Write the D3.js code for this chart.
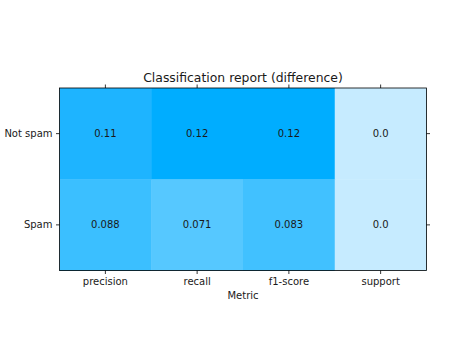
<!DOCTYPE html>
<html><head><meta charset="utf-8">
<script src="https://cdn.jsdelivr.net/npm/d3@7"></script>
<style>body{margin:0;background:#fff}svg{display:block}text{font-family:"DejaVu Sans",sans-serif;fill:#1a1a1a}</style>
</head><body><svg id="c" width="474" height="355"></svg>
<script>
const metrics = ["precision", "recall", "f1-score", "support"];
const classes = ["Not spam", "Spam"];
const notSpam = [0.11, 0.12, 0.12, 0.0];
const spam = [0.088, 0.071, 0.083, 0.0];
const labelsNotSpam = ["0.11", "0.12", "0.12", "0.0"];
const labelsSpam = ["0.088", "0.071", "0.083", "0.0"];
const title = "Classification report (difference)";
const xTitle = "Metric";

const rows = [notSpam, spam];
const rowLabels = [labelsNotSpam, labelsSpam];
const cells = [];
rows.forEach((r, i) => r.forEach((v, j) => cells.push({row: classes[i], col: metrics[j], v, label: rowLabels[i][j]})));

const svg = d3.select("#c");
const m = {l: 59.5, t: 88, r: 47.5, b: 84.5};
const W = 474 - m.l - m.r, H = 355 - m.t - m.b;
const x = d3.scaleBand().domain(metrics).range([0, W]);
const y = d3.scaleBand().domain(classes).range([0, H]);
const color = d3.scaleLinear()
  .domain([0, 0.071, 0.083, 0.088, 0.11, 0.12])
  .range(["#c6ebff", "#56c8ff", "#41c1ff", "#3bbfff", "#1eb4ff", "#00adff"]);

const g = svg.append("g").attr("transform", `translate(${m.l},${m.t})`);
g.selectAll("rect.cell").data(cells).join("rect").attr("class", "cell")
  .attr("x", d => x(d.col)).attr("y", d => y(d.row))
  .attr("width", x.bandwidth() + 0.5).attr("height", y.bandwidth() + 0.5)
  .attr("fill", d => color(d.v));
g.selectAll("text.val").data(cells).join("text").attr("class", "val")
  .attr("x", d => x(d.col) + x.bandwidth() / 2).attr("y", d => y(d.row) + y.bandwidth() / 2)
  .attr("text-anchor", "middle").attr("dominant-baseline", "central")
  .style("font-size", "10px").text(d => d.label);

function styleAxis(a) {
  a.select(".domain").remove();
  a.selectAll(".tick line").attr("stroke", "#000").attr("stroke-width", 0.8);
  a.selectAll(".tick text").style("font-size", "10px").attr("fill", "#1a1a1a");
}
const ax = d3.axisBottom(x).tickSize(3.5).tickPadding(3.5);
g.append("g").attr("transform", `translate(0,${H})`).call(ax).call(styleAxis);
g.append("g").call(d3.axisTop(x).tickSize(3.5).tickFormat("")).call(styleAxis);
g.append("g").call(d3.axisLeft(y).tickSize(3.5).tickPadding(3.5)).call(styleAxis);
g.append("g").attr("transform", `translate(${W},0)`).call(d3.axisRight(y).tickSize(3.5).tickFormat("")).call(styleAxis);
g.selectAll(".tick text").attr("font-family", null);

g.append("rect").attr("x", 0).attr("y", 0).attr("width", W).attr("height", H)
  .attr("fill", "none").attr("stroke", "#000").attr("stroke-width", 0.8);

svg.append("text").attr("x", m.l + W / 2).attr("y", 77).attr("text-anchor", "middle")
  .attr("dominant-baseline", "central").style("font-size", "12.4px").text(title);
svg.append("text").attr("x", m.l + W / 2).attr("y", 295).attr("text-anchor", "middle")
  .attr("dominant-baseline", "central").style("font-size", "10px").text(xTitle);
</script></body></html>
